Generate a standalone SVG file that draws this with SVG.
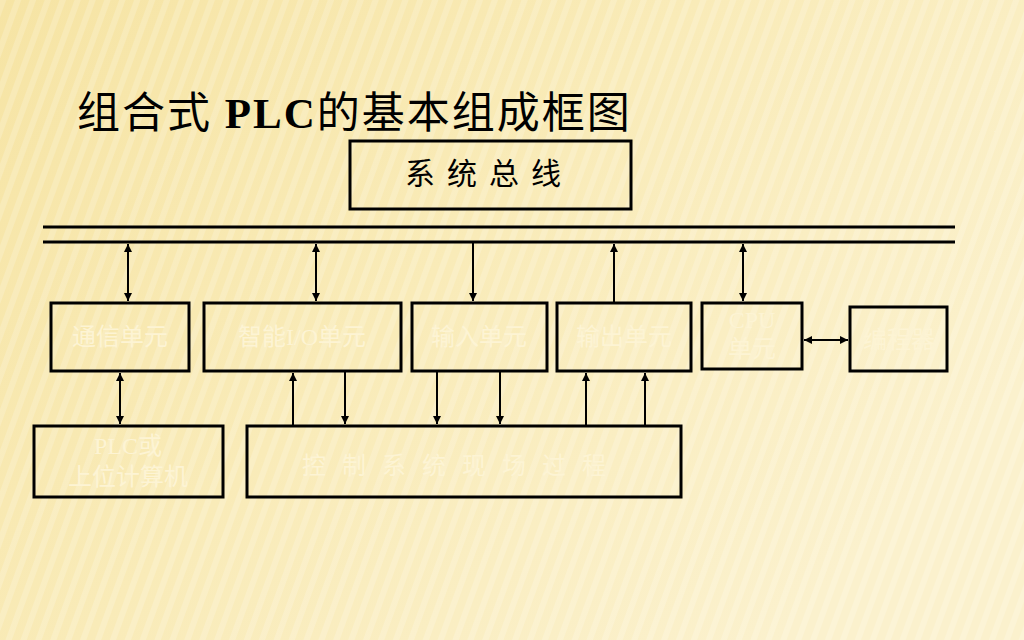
<svg xmlns="http://www.w3.org/2000/svg" width="1024" height="640" viewBox="0 0 1024 640">
<defs>
<linearGradient id="bg" x1="0" y1="0" x2="1" y2="0.6">
<stop offset="0" stop-color="#f6e4a4"/>
<stop offset="0.5" stop-color="#f9ebb8"/>
<stop offset="1" stop-color="#fbf1cd"/>
</linearGradient>
<pattern id="stripes" width="14" height="14" patternUnits="userSpaceOnUse" patternTransform="rotate(20)">
<rect width="6" height="14" fill="#ffffff" opacity="0.18"/>
</pattern>
<marker id="ah" viewBox="0 0 10 10" refX="10" refY="5" markerWidth="4" markerHeight="4" orient="auto-start-reverse">
<path d="M0,0 L10,5 L0,10 z" fill="#000"/>
</marker>
<style>
.box{fill:none;stroke:#000;stroke-width:3}
.bus{stroke:#000;stroke-width:3}
.c{stroke:#000;stroke-width:2;fill:none}
.title{font-family:"Liberation Serif","Noto Sans CJK SC",serif;font-size:43px;fill:#000;letter-spacing:2px}
.lbl{font-family:"Liberation Serif","Noto Sans CJK SC",serif;font-size:30px;fill:#000}
.faint{font-family:"Liberation Serif","Noto Sans CJK SC",serif;font-size:24px;fill:#fdf4d4;text-anchor:middle}
</style>
</defs>
<rect width="1024" height="640" fill="url(#bg)"/>
<rect width="1024" height="640" fill="url(#stripes)"/>

<g id="title">
<text class="title" x="77" y="128">组合式 <tspan font-weight="bold">PLC</tspan>的基本组成框图</text>
</g>

<g id="system-bus">
<rect class="box" x="350" y="141" width="281" height="68"/>
<text class="lbl" x="489" y="184" text-anchor="middle" letter-spacing="12">系统总线</text>
</g>

<g id="bus-lines">
<line class="bus" x1="43" y1="227" x2="955" y2="227"/>
<line class="bus" x1="43" y1="242" x2="955" y2="242"/>
</g>

<g id="comm-unit">
<rect class="box" x="51" y="303" width="138" height="68"/>
<text class="faint" x="120" y="345">通信单元</text>
</g>
<g id="smart-io-unit">
<rect class="box" x="204" y="303" width="197" height="68"/>
<text class="faint" x="302" y="345">智能I/O单元</text>
</g>
<g id="input-unit">
<rect class="box" x="412" y="303" width="135" height="68"/>
<text class="faint" x="479" y="345">输入单元</text>
</g>
<g id="output-unit">
<rect class="box" x="557" y="303" width="134" height="68"/>
<text class="faint" x="624" y="345">输出单元</text>
</g>
<g id="cpu-unit">
<rect class="box" x="702" y="303" width="100" height="66"/>
<text class="faint" x="752" y="328">CPU</text>
<text class="faint" x="752" y="357">单元</text>
</g>
<g id="programmer">
<rect class="box" x="850" y="307" width="97" height="64"/>
<text class="faint" x="899" y="348">编程器</text>
</g>
<g id="host">
<rect class="box" x="34" y="426" width="189" height="71"/>
<text class="faint" x="128" y="454">PLC或</text>
<text class="faint" x="128" y="485">上位计算机</text>
</g>
<g id="process">
<rect class="box" x="247" y="426" width="434" height="71"/>
<text class="faint" x="462" y="474" font-size="28" letter-spacing="16">控制系统现场过程</text>
</g>

<g id="connectors">
<line class="c" x1="128" y1="244" x2="128" y2="301" marker-start="url(#ah)" marker-end="url(#ah)"/>
<line class="c" x1="316" y1="244" x2="316" y2="301" marker-start="url(#ah)" marker-end="url(#ah)"/>
<line class="c" x1="473" y1="243" x2="473" y2="301" marker-end="url(#ah)"/>
<line class="c" x1="614" y1="302" x2="614" y2="244" marker-end="url(#ah)"/>
<line class="c" x1="743" y1="244" x2="743" y2="301" marker-start="url(#ah)" marker-end="url(#ah)"/>
<line class="c" x1="804" y1="340" x2="848" y2="340" marker-start="url(#ah)" marker-end="url(#ah)"/>
<line class="c" x1="120" y1="373" x2="120" y2="424" marker-start="url(#ah)" marker-end="url(#ah)"/>
<line class="c" x1="293" y1="425" x2="293" y2="373" marker-end="url(#ah)"/>
<line class="c" x1="345" y1="372" x2="345" y2="424" marker-end="url(#ah)"/>
<line class="c" x1="437" y1="372" x2="437" y2="424" marker-end="url(#ah)"/>
<line class="c" x1="500" y1="372" x2="500" y2="424" marker-end="url(#ah)"/>
<line class="c" x1="586" y1="425" x2="586" y2="373" marker-end="url(#ah)"/>
<line class="c" x1="645" y1="425" x2="645" y2="373" marker-end="url(#ah)"/>
</g>
</svg>
